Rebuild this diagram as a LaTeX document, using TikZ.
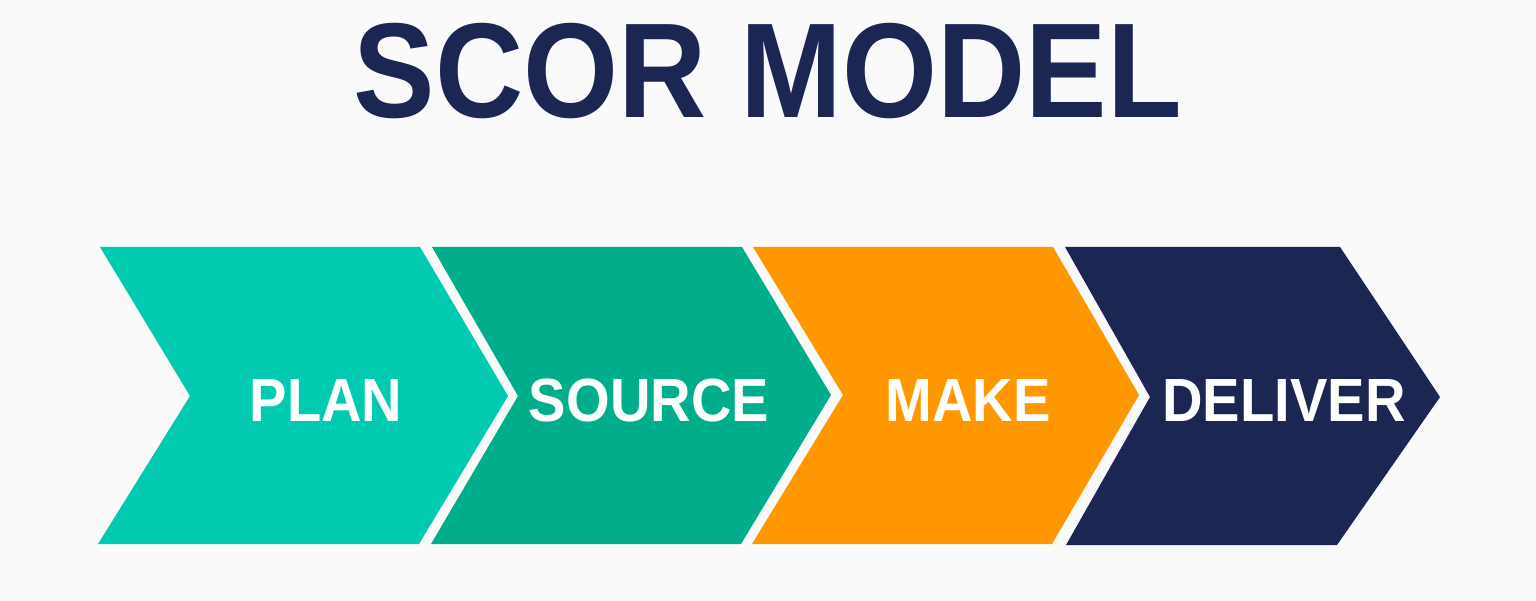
\documentclass[tikz,border=0pt]{standalone}
\usepackage{fontspec}
\newfontfamily\scorfont{Liberation Sans}[FakeStretch=0.905]
\newfontfamily\stagefont{Liberation Sans}[FakeStretch=0.92]
\definecolor{scornavy}{RGB}{27,38,83}
\definecolor{plancol}{RGB}{0,202,175}
\definecolor{sourcecol}{RGB}{0,174,140}
\definecolor{makecol}{RGB}{255,152,0}
\definecolor{pagebg}{RGB}{250,250,250}
\tikzstyle{heading} = [text=scornavy, font={\scorfont\bfseries\fontsize{135}{135}\selectfont}]
\tikzstyle{stagetext} = [text=white, font={\stagefont\bfseries\fontsize{61}{61}\selectfont}]

\begin{document}
\begin{tikzpicture}[x=1pt,y=-1pt]
    \fill[pagebg] (0,0) rectangle (1536,601);
    % the four chevrons
    \fill[plancol] (100,247) -- (420,247) -- (508,396) -- (419,544) -- (98,544) -- (190,396) -- cycle;
    \fill[sourcecol] (432,247) -- (742,247) -- (831,395) -- (741,544) -- (431,544) -- (518,396) -- cycle;
    \fill[makecol] (753,247) -- (1053,247) -- (1139,395) -- (1052,544) -- (752,544) -- (843,395) -- cycle;
    \fill[scornavy] (1065,247) -- (1340,247) -- (1440,397) -- (1337,545) -- (1066,545) -- (1150,397) -- cycle;
    \node[heading](title) at (768,71){SCOR MODEL};
    \node[stagetext](plan) at (326,401){PLAN};
    \node[stagetext](source) at (649,401){SOURCE};
    \node[stagetext](make) at (968,401){MAKE};
    \node[stagetext](deliver) at (1284,401){DELIVER};
  \end{tikzpicture}
\end{document}
